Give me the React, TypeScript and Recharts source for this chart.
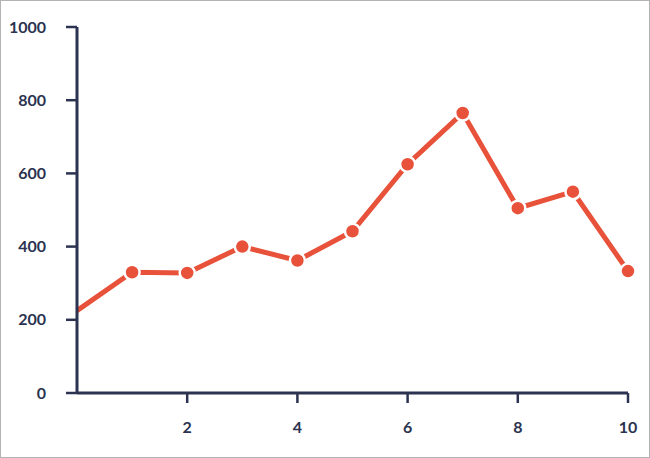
import { LineChart, Line, XAxis, YAxis } from 'recharts'

const xValues = [0, 1, 2, 3, 4, 5, 6, 7, 8, 9, 10]
const yValues = [225, 330, 328, 400, 362, 442, 625, 765, 505, 550, 333]
const xTicks = [2, 4, 6, 8, 10]
const yTicks = [0, 200, 400, 600, 800, 1000]

const data = xValues.map((x, i) => ({ x, y: yValues[i] }))

const INK = '#2b3350'
const RED = '#e8513a'

const tickStyle = { fontSize: 16, fontWeight: 700, fill: INK, fontFamily: 'Lato, sans-serif' }

const renderDot = (props: any) => {
  const { cx, cy, index } = props
  if (index === 0) return <g key={`d${index}`} />
  return <circle key={`d${index}`} cx={cx} cy={cy} r={7.5} fill={RED} stroke="#ffffff" strokeWidth={2.5} />
}

export default function App() {
  return (
    <div
      style={{
        position: 'absolute', left: 0, top: 0, width: 650, height: 458,
        border: '1px solid #b3b3b3', boxSizing: 'border-box', background: '#fff',
      }}
    >
      <LineChart width={648} height={456} data={data} margin={{ top: 26, right: 21, bottom: 20, left: 0 }}>
        <XAxis
          dataKey="x" type="number" domain={[0, 10]} ticks={xTicks}
          axisLine={{ stroke: INK, strokeWidth: 3 }}
          tickLine={{ stroke: INK, strokeWidth: 2.5 }}
          tickSize={10} tickMargin={19} height={44}
          tick={tickStyle}
        />
        <YAxis
          type="number" domain={[0, 1000]} ticks={yTicks} width={76}
          axisLine={{ stroke: INK, strokeWidth: 3 }}
          tickLine={{ stroke: INK, strokeWidth: 2.5 }}
          tickSize={11} tickMargin={20}
          tick={tickStyle}
        />
        <Line
          dataKey="y" stroke={RED} strokeWidth={5} dot={renderDot}
          activeDot={false} isAnimationActive={false} type="linear"
        />
      </LineChart>
    </div>
  )
}
